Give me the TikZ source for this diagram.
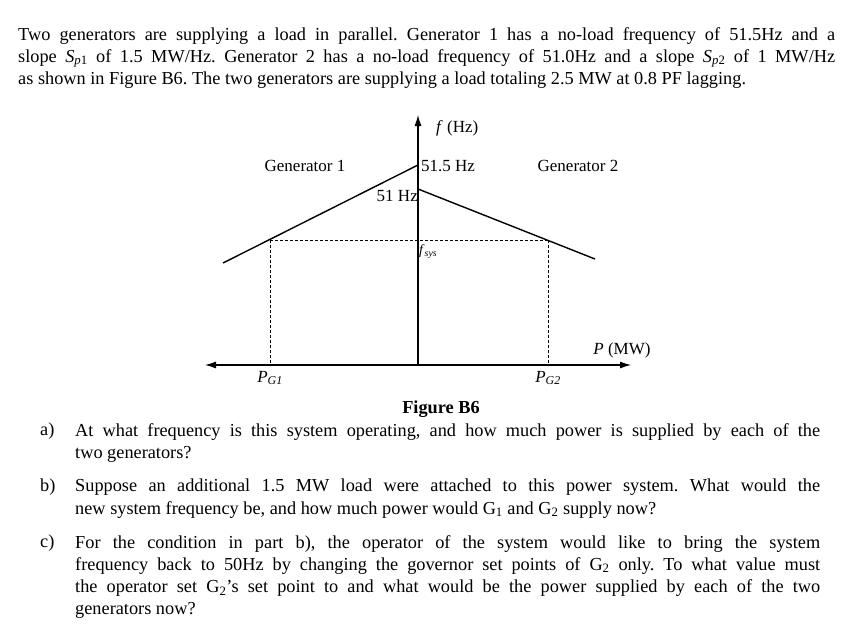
\documentclass[tikz,border=0pt]{standalone}
\usepackage{fontspec}
\setmainfont{Liberation Serif}
\usetikzlibrary{arrows.meta}
\begin{document}
\frenchspacing
\begin{tikzpicture}[x=1pt,y=-1pt,
  curve/.style={line width=1.4pt},
  axisline/.style={line width=1.1pt},
  guide/.style={line width=1pt,dash pattern=on 3pt off 2pt},
  lbl/.style={inner sep=0pt,font=\fontsize{17}{19}\selectfont},
  para/.style={inner sep=0pt,anchor=north west,align=justify,font=\fontsize{18.3}{22.3}\selectfont}]
\useasboundingbox (0,0) rectangle (846,629);
\node[para,text width=817pt] (intro) at (18,27) {\frenchspacing Two generators are supplying a load in parallel. Generator 1 has a no-load frequency of 51.5Hz and a\linebreak slope \textit{S}\textsubscript{\textit{p}1} of 1.5 MW/Hz. Generator 2 has a no-load frequency of 51.0Hz and a slope \textit{S}\textsubscript{\textit{p}2} of 1 MW/Hz\linebreak as shown in Figure B6. The two generators are supplying a load totaling 2.5 MW at 0.8 PF lagging.};
\coordinate (top) at (418,115);
\coordinate (orig) at (418,365);
\coordinate (left) at (205,365);
\coordinate (right) at (631,365);
\draw[axisline,-{Latex[length=11pt,width=7pt]}] (orig) -- (top);
\draw[axisline,{Latex[length=11pt,width=7pt]}-{Latex[length=11pt,width=7pt]}] (left) -- (right);
\coordinate (g1a) at (223,263);
\coordinate (g1b) at (418,165);
\coordinate (g2a) at (418,189);
\coordinate (g2b) at (595,259);
\draw[curve] (g1a) -- (g1b);
\draw[curve] (g2a) -- (g2b);
\coordinate (d1) at (270,240);
\coordinate (d2) at (548,240);
\coordinate (d1b) at (270,365);
\coordinate (d2b) at (548,365);
\draw[guide] (d1) -- (d2);
\draw[guide] (d1) -- (d1b);
\draw[guide] (d2) -- (d2b);
\node[lbl,anchor=west] (fhz) at (436,128) {\textit{f} (Hz)};
\node[lbl,anchor=west] (f515) at (421,166) {51.5 Hz};
\node[lbl] (gen1) at (305,166) {Generator 1};
\node[lbl] (gen2) at (578,166) {Generator 2};
\node[lbl,anchor=east] (f51) at (418,196) {51 Hz};
\node[lbl,anchor=west] (fsys) at (419,252) {\fontsize{14}{14}\selectfont\textit{f}\textsubscript{\textit{sys}}};
\node[lbl] (pmw) at (622,350) {\textit{P} (MW)};
\node[lbl] (pg1) at (270,378) {\textit{P}\textsubscript{\textit{G1}}};
\node[lbl] (pg2) at (548,378) {\textit{P}\textsubscript{\textit{G2}}};
\node[lbl,font=\fontsize{18.3}{20}\selectfont\bfseries] (fig) at (441,409) {Figure B6};
\node[para] (qa) at (40,423) {a)};
\node[para,text width=745pt] (ta) at (75,423) {At what frequency is this system operating, and how much power is supplied by each of the\linebreak two generators?};
\node[para] (qb) at (40,479) {b)};
\node[para,text width=745pt] (tb) at (75,479) {Suppose an additional 1.5 MW load were attached to this power system. What would the\linebreak new system frequency be, and how much power would G\textsubscript{1} and G\textsubscript{2} supply now?};
\node[para] (qc) at (40,535) {c)};
\node[para,text width=745pt] (tc) at (75,535) {For the condition in part b), the operator of the system would like to bring the system\linebreak frequency back to 50Hz by changing the governor set points of G\textsubscript{2} only. To what value must\linebreak the operator set G\textsubscript{2}'s set point to and what would be the power supplied by each of the two\linebreak generators now?};
\end{tikzpicture}
\end{document}
